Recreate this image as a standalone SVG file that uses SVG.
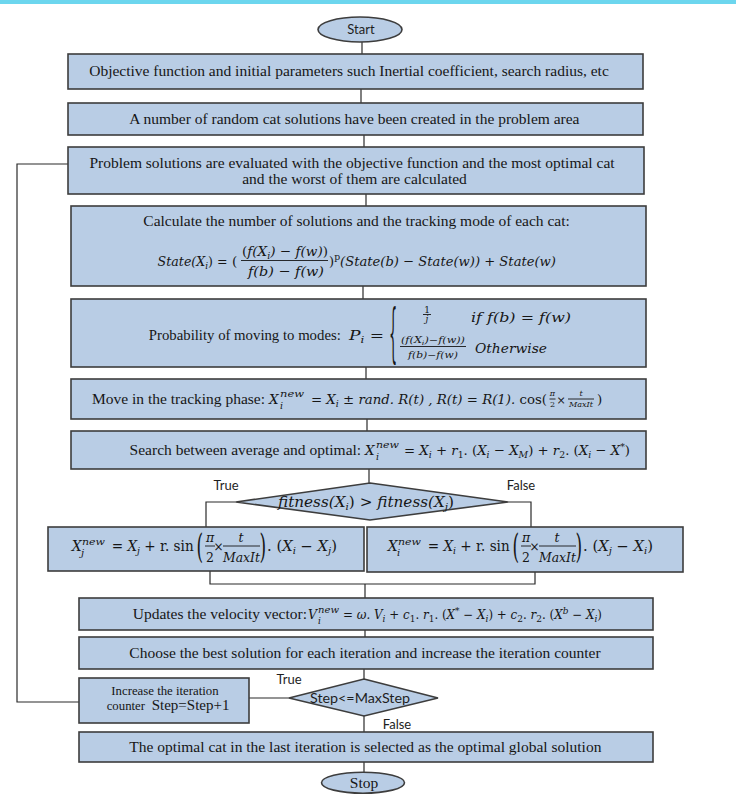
<svg xmlns="http://www.w3.org/2000/svg" width="736" height="797" viewBox="0 0 736 797">
<style>
.box{fill:#b9cde5;stroke:#3d3d3d;stroke-width:1.6}
.ln{fill:none;stroke:#2b2b2b;stroke-width:1.2}
.t{font-family:"Liberation Serif","Times New Roman",serif;font-size:15.5px;fill:#161616}
.m{font-family:"DejaVu Serif",serif;font-style:italic;font-size:13.5px;fill:#161616}
.up{font-style:normal}
.sb{font-size:9.5px}
.s{font-family:Lato,"Liberation Sans",sans-serif;font-size:13px;fill:#1e1e1e}
.fr{stroke:#161616;stroke-width:0.9}
</style>
<rect x="0" y="0" width="736" height="797" fill="#ffffff"/>
<rect x="0" y="0" width="736" height="4" fill="#6cd6ee"/>

<g id="connectors">
<line class="ln" x1="362" y1="42" x2="362" y2="54"/>
<line class="ln" x1="361" y1="89" x2="361" y2="103"/>
<line class="ln" x1="364" y1="135" x2="364" y2="147"/>
<line class="ln" x1="366" y1="194" x2="366" y2="206"/>
<line class="ln" x1="363" y1="286" x2="363" y2="299"/>
<line class="ln" x1="366" y1="367" x2="366" y2="379"/>
<line class="ln" x1="367" y1="419" x2="367" y2="431"/>
<line class="ln" x1="369" y1="469" x2="369" y2="483"/>
<polyline class="ln" points="236,502 206,502 206,527"/>
<polyline class="ln" points="508,502 531,502 531,527"/>
<polyline class="ln" points="210,571 210,584 535,584 535,572"/>
<line class="ln" x1="365" y1="584" x2="365" y2="598"/>
<line class="ln" x1="365" y1="630" x2="365" y2="637"/>
<line class="ln" x1="364" y1="669" x2="364" y2="679"/>
<line class="ln" x1="289" y1="698" x2="249" y2="698"/>
<polyline class="ln" points="79,702 17,702 17,164 68,164"/>
<line class="ln" x1="364" y1="716" x2="364" y2="732"/>
<line class="ln" x1="364" y1="762" x2="364" y2="772"/>
</g>

<g id="start">
<ellipse class="box" cx="360" cy="29.5" rx="42" ry="12.5"/>
<text class="s" x="361" y="34" text-anchor="middle">Start</text>
</g>

<g id="init">
<rect class="box" x="68" y="54" width="575" height="35"/>
<text class="t" x="349" y="75.5" text-anchor="middle">Objective function and initial parameters such Inertial coefficient, search radius, etc</text>
</g>

<g id="random">
<rect class="box" x="68" y="103" width="575" height="32"/>
<text class="t" x="354.4" y="123.5" text-anchor="middle">A number of random cat solutions have been created in the problem area</text>
</g>

<g id="evaluate">
<rect class="box" x="68" y="147" width="576" height="47"/>
<text class="t" x="352" y="168" text-anchor="middle">Problem solutions are evaluated with the objective function and the most optimal cat</text>
<text class="t" x="354.5" y="183.5" text-anchor="middle">and the worst of them are calculated</text>
</g>

<g id="state">
<rect class="box" x="71" y="206" width="575" height="80"/>
<text class="t" x="356.6" y="226" text-anchor="middle">Calculate the number of solutions and the tracking mode of each cat:</text>
<text class="m" x="157.6" y="266" textLength="70" lengthAdjust="spacingAndGlyphs">State(X<tspan class="sb" dy="3">i</tspan><tspan dy="-3" class="up">) =</tspan></text>
<text class="m up" x="232" y="266">(</text>
<text class="m" x="242" y="256" textLength="86" lengthAdjust="spacingAndGlyphs"><tspan class="up">(</tspan>f(X<tspan class="sb" dy="3">i</tspan><tspan dy="-3">) − f(w)</tspan><tspan class="up">)</tspan></text>
<line class="fr" x1="241" y1="260.5" x2="328" y2="260.5"/>
<text class="m" x="248" y="275.5" textLength="76" lengthAdjust="spacingAndGlyphs">f(b) − f(w)</text>
<text class="m" x="329" y="266" textLength="227" lengthAdjust="spacingAndGlyphs"><tspan class="up">)</tspan><tspan class="up sb" dy="-6">p</tspan><tspan dy="6">(State(b) − State(w)) + State(w)</tspan></text>
</g>

<g id="probability">
<rect class="box" x="71" y="299" width="575" height="68"/>
<text class="t" x="148.8" y="340" textLength="192" lengthAdjust="spacingAndGlyphs">Probability of moving to modes:</text>
<text class="m" x="349" y="340" textLength="35" lengthAdjust="spacingAndGlyphs">P<tspan class="sb" dy="3">i</tspan><tspan dy="-3" class="up"> =</tspan></text>
<text class="m up" transform="translate(389,354.6) scale(0.65,3.2)" style="font-size:20px">{</text>
<text class="m up" x="427" y="312.5" style="font-size:9px" text-anchor="middle">1</text>
<line class="fr" x1="423" y1="314.5" x2="431" y2="314.5" stroke-width="0.7"/>
<text class="m" x="427" y="321.5" style="font-size:9px" text-anchor="middle">j</text>
<text class="m" x="471" y="322" textLength="100" lengthAdjust="spacingAndGlyphs">if f(b) = f(w)</text>
<text class="m" x="401" y="342.5" style="font-size:8.5px" textLength="64" lengthAdjust="spacingAndGlyphs">(f(X<tspan style="font-size:6px" dy="2">i</tspan><tspan dy="-2">)−f(w))</tspan></text>
<line class="fr" x1="400" y1="346.5" x2="466" y2="346.5" stroke-width="0.8"/>
<text class="m" x="408" y="357.5" style="font-size:8.5px" textLength="50" lengthAdjust="spacingAndGlyphs">f(b)−f(w)</text>
<text class="m" x="475" y="352.5" textLength="72" lengthAdjust="spacingAndGlyphs">Otherwise</text>
</g>

<g id="tracking">
<rect class="box" x="71" y="379" width="575" height="40"/>
<text class="t" x="92" y="404">Move in the tracking phase:</text>
<text class="m" x="269" y="404">X</text>
<text class="m" x="280" y="397" style="font-size:10px" textLength="24" lengthAdjust="spacingAndGlyphs">new</text>
<text class="m" x="280" y="408.5" style="font-size:9.5px">i</text>
<text class="m" x="311" y="404" textLength="236" lengthAdjust="spacingAndGlyphs"><tspan class="up">=</tspan> X<tspan class="sb" dy="3">i</tspan><tspan dy="-3" class="up"> ± </tspan>rand. R(t) , R(t) <tspan class="up">=</tspan> R(1). <tspan class="up">cos(</tspan></text>
<text class="m" x="552.5" y="396" style="font-size:8px" text-anchor="middle">π</text>
<line class="fr" x1="549.5" y1="399" x2="555.5" y2="399" stroke-width="0.7"/>
<text class="m up" x="552.5" y="407" style="font-size:8px" text-anchor="middle">2</text>
<text class="m up" x="561" y="404" style="font-size:11px" text-anchor="middle">×</text>
<text class="m" x="581" y="396" style="font-size:8px" text-anchor="middle">t</text>
<line class="fr" x1="568" y1="399" x2="594" y2="399" stroke-width="0.7"/>
<text class="m" x="569" y="407" style="font-size:8px" textLength="24" lengthAdjust="spacingAndGlyphs">MaxIt</text>
<text class="m up" x="597" y="404">)</text>
</g>

<g id="search">
<rect class="box" x="71" y="431" width="575" height="38"/>
<text class="t" x="129.6" y="455">Search between average and optimal:</text>
<text class="m" x="365" y="455">X</text>
<text class="m" x="376" y="448" style="font-size:10px" textLength="23" lengthAdjust="spacingAndGlyphs">new</text>
<text class="m" x="376" y="459.5" style="font-size:9.5px">i</text>
<text class="m" x="404" y="455" textLength="226" lengthAdjust="spacingAndGlyphs"><tspan class="up">=</tspan> X<tspan class="sb" dy="3">i</tspan><tspan dy="-3" class="up"> + </tspan>r<tspan class="sb up" dy="3">1</tspan><tspan dy="-3" class="up">. (</tspan>X<tspan class="sb" dy="3">i</tspan><tspan dy="-3" class="up"> − </tspan>X<tspan class="sb" dy="3">M</tspan><tspan dy="-3" class="up">) + </tspan>r<tspan class="sb up" dy="3">2</tspan><tspan dy="-3" class="up">. (</tspan>X<tspan class="sb" dy="3">i</tspan><tspan dy="-3" class="up"> − </tspan>X<tspan class="sb up" dy="-5">*</tspan><tspan dy="5" class="up">)</tspan></text>
</g>

<g id="fitness">
<polygon class="box" points="370,483 508,502 370,520 236,502"/>
<text class="m" x="278" y="506.5" style="font-size:14px" textLength="176" lengthAdjust="spacingAndGlyphs">fitness(X<tspan class="sb" dy="3">i</tspan><tspan dy="-3" class="up">) &gt; </tspan>fitness(X<tspan class="sb" dy="3">j</tspan><tspan dy="-3" class="up">)</tspan></text>
</g>

<g id="update-j">
<rect class="box" x="48" y="527" width="316" height="44"/>
<text class="m" x="71.7" y="551" style="font-size:14px">X</text>
<text class="m" x="82" y="544.5" style="font-size:10px" textLength="23" lengthAdjust="spacingAndGlyphs">new</text>
<text class="m" x="81" y="556" style="font-size:10px">j</text>
<text class="m" x="111.7" y="551" style="font-size:14px" textLength="82" lengthAdjust="spacingAndGlyphs"><tspan class="up">=</tspan> X<tspan class="sb" dy="3">j</tspan><tspan dy="-3" class="up"> + r. sin</tspan></text>
<text class="m up" transform="translate(196.5,557.8) scale(0.85,1.63)" style="font-size:20px">(</text>
<text class="m" x="210" y="541.5" style="font-size:12.5px" text-anchor="middle">π</text>
<line class="fr" x1="205" y1="546" x2="215" y2="546"/>
<text class="m up" x="210" y="561.5" style="font-size:12.5px" text-anchor="middle">2</text>
<text class="m up" x="218.5" y="550.5" style="font-size:12px" text-anchor="middle">×</text>
<text class="m" x="241" y="541.5" style="font-size:12.5px" text-anchor="middle">t</text>
<line class="fr" x1="223" y1="546" x2="260" y2="546"/>
<text class="m" x="223" y="561.5" style="font-size:12.5px" textLength="37" lengthAdjust="spacingAndGlyphs">MaxIt</text>
<text class="m up" transform="translate(259.5,557.8) scale(0.85,1.63)" style="font-size:20px">)</text>
<text class="m" x="267" y="551" style="font-size:14px" textLength="70" lengthAdjust="spacingAndGlyphs"><tspan class="up">. (</tspan>X<tspan class="sb" dy="3">i</tspan><tspan dy="-3" class="up"> − </tspan>X<tspan class="sb" dy="3">j</tspan><tspan dy="-3" class="up">)</tspan></text>
</g>

<g id="update-i">
<rect class="box" x="367" y="527" width="316" height="45"/>
<g transform="translate(316,0)">
<text class="m" x="71.7" y="551" style="font-size:14px">X</text>
<text class="m" x="82" y="544.5" style="font-size:10px" textLength="23" lengthAdjust="spacingAndGlyphs">new</text>
<text class="m" x="81" y="556" style="font-size:10px">i</text>
<text class="m" x="111.7" y="551" style="font-size:14px" textLength="82" lengthAdjust="spacingAndGlyphs"><tspan class="up">=</tspan> X<tspan class="sb" dy="3">i</tspan><tspan dy="-3" class="up"> + r. sin</tspan></text>
<text class="m up" transform="translate(196.5,557.8) scale(0.85,1.63)" style="font-size:20px">(</text>
<text class="m" x="210" y="541.5" style="font-size:12.5px" text-anchor="middle">π</text>
<line class="fr" x1="205" y1="546" x2="215" y2="546"/>
<text class="m up" x="210" y="561.5" style="font-size:12.5px" text-anchor="middle">2</text>
<text class="m up" x="218.5" y="550.5" style="font-size:12px" text-anchor="middle">×</text>
<text class="m" x="241" y="541.5" style="font-size:12.5px" text-anchor="middle">t</text>
<line class="fr" x1="223" y1="546" x2="260" y2="546"/>
<text class="m" x="223" y="561.5" style="font-size:12.5px" textLength="37" lengthAdjust="spacingAndGlyphs">MaxIt</text>
<text class="m up" transform="translate(259.5,557.8) scale(0.85,1.63)" style="font-size:20px">)</text>
<text class="m" x="267" y="551" style="font-size:14px" textLength="70" lengthAdjust="spacingAndGlyphs"><tspan class="up">. (</tspan>X<tspan class="sb" dy="3">j</tspan><tspan dy="-3" class="up"> − </tspan>X<tspan class="sb" dy="3">i</tspan><tspan dy="-3" class="up">)</tspan></text>
</g>
</g>

<g id="velocity">
<rect class="box" x="79" y="598" width="574" height="32"/>
<text class="t" x="132.7" y="619">Updates the velocity vector:</text>
<text class="m" x="308" y="619" style="font-size:12.5px">V</text>
<text class="m" x="318" y="612.5" style="font-size:9.5px" textLength="21" lengthAdjust="spacingAndGlyphs">new</text>
<text class="m" x="318" y="623.5" style="font-size:9px">i</text>
<text class="m" x="343" y="619" style="font-size:12.5px" textLength="259" lengthAdjust="spacingAndGlyphs"><tspan class="up">=</tspan> ω. V<tspan class="sb" dy="3">i</tspan><tspan dy="-3" class="up"> +  </tspan>c<tspan class="sb up" dy="3">1</tspan><tspan dy="-3" class="up">. </tspan>r<tspan class="sb up" dy="3">1</tspan><tspan dy="-3" class="up">. (</tspan>X<tspan class="sb up" dy="-5">*</tspan><tspan dy="5" class="up"> − </tspan>X<tspan class="sb" dy="3">i</tspan><tspan dy="-3" class="up">) +  </tspan>c<tspan class="sb up" dy="3">2</tspan><tspan dy="-3" class="up">. </tspan>r<tspan class="sb up" dy="3">2</tspan><tspan dy="-3" class="up">. (</tspan>X<tspan class="sb" dy="-5">b</tspan><tspan dy="5" class="up"> − </tspan>X<tspan class="sb" dy="3">i</tspan><tspan dy="-3" class="up">)</tspan></text>
</g>

<g id="choose">
<rect class="box" x="79" y="637" width="574" height="32"/>
<text class="t" x="365" y="658" text-anchor="middle">Choose the best solution for each iteration and increase the iteration counter</text>
</g>

<g id="increase">
<rect class="box" x="79" y="678" width="170" height="45"/>
<text class="t" x="165" y="695" style="font-size:12.8px" text-anchor="middle">Increase the iteration</text>
<text class="t" x="106.7" y="709.5" style="font-size:12.8px">counter</text>
<text class="t" x="151.7" y="709.5" style="font-size:15px">Step=Step+1</text>
</g>

<g id="step-check">
<polygon class="box" points="364,679 438,698 364,716 289,698"/>
<text class="s" x="310" y="703" style="font-size:14px" textLength="100" lengthAdjust="spacingAndGlyphs">Step&lt;=MaxStep</text>
</g>

<g id="final">
<rect class="box" x="79" y="732" width="574" height="30"/>
<text class="t" x="365.3" y="752" text-anchor="middle">The optimal cat in the last iteration is selected as the optimal global solution</text>
</g>

<g id="stop">
<ellipse class="box" cx="363" cy="782.7" rx="41.5" ry="10.5"/>
<text class="t" x="364" y="787.5" text-anchor="middle">Stop</text>
</g>

<g id="labels">
<text class="s" x="226" y="489.5" text-anchor="middle">True</text>
<text class="s" x="521" y="489.5" text-anchor="middle">False</text>
<text class="s" x="289" y="683.5" text-anchor="middle">True</text>
<text class="s" x="397" y="728.5" text-anchor="middle">False</text>
</g>
</svg>
